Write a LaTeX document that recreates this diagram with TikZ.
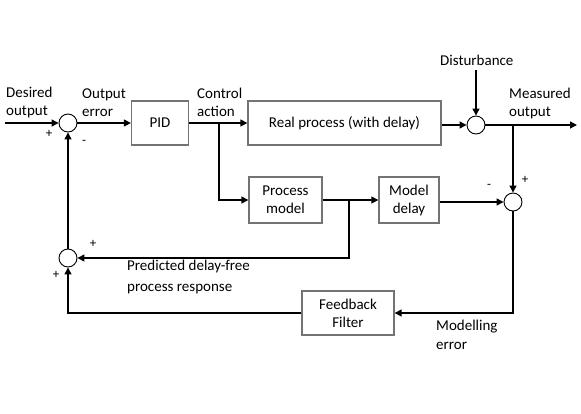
\documentclass[tikz,border=0pt]{standalone}
\usepackage{fontspec}
\setmainfont{Carlito}
\usetikzlibrary{arrows.meta}
\begin{document}
\begin{tikzpicture}[x=1pt,y=-1pt,
  blk/.style={draw=black!55,line width=1.3pt,fill=white,minimum height=44pt,inner sep=0pt,align=center,font=\fontsize{15}{18}\selectfont},
  sumc/.style={circle,draw=black,line width=0.9pt,minimum size=18pt,inner sep=0pt},
  conn/.style={line width=1.3pt,-{Triangle[length=7pt,width=7pt]}},
  lbl/.style={font=\fontsize{15}{17.5}\selectfont,align=left,inner sep=0pt},
  sgn/.style={font=\fontsize{13}{13}\selectfont,inner sep=0pt}]
\useasboundingbox (0,0) rectangle (581,413);
% blocks
\node[blk,minimum width=57pt] (pid) at (160,123) {PID};
\node[blk,minimum width=193pt] (real) at (344.5,123) {Real process (with delay)};
\node[blk,minimum width=73pt,minimum height=46pt] (pm) at (285.5,200) {Process\\model};
\node[blk,minimum width=60pt,minimum height=46pt] (md) at (409,200) {Model\\delay};
\node[blk,minimum width=92pt] (ff) at (348,313) {Feedback\\Filter};
% summing junctions
\node[sumc] (s1) at (68,123) {};
\node[sumc] (s2) at (476,125) {};
\node[sumc] (s3) at (513,202) {};
\node[sumc] (s4) at (68,258) {};
% free ends
\coordinate (in) at (5,123);
\coordinate (dist) at (476,70);
\coordinate (out) at (577,125);
\coordinate (b1) at (219,123);
\coordinate (b2) at (513,125);
\coordinate (b3) at (349,200);
\coordinate (c1) at (68,313);
% connectors
\draw[conn] (in) -- (s1);
\draw[conn] (s1) -- (pid);
\draw[conn] (pid) -- (real);
\draw[conn] (b1) |- (pm);
\draw[conn] (real.east |- s2) -- (s2);
\draw[conn] (dist) -- (s2);
\draw[conn] (s2) -- (out);
\draw[conn] (b2) -- (s3);
\draw[conn] (pm) -- (md);
\draw[conn] (md.east |- s3) -- (s3);
\draw[conn] (b3) |- (s4);
\draw[conn] (s3) |- (ff);
\draw[conn] (ff) -| (c1) -- (s4);
\draw[conn] (s4) -- (s1);
% labels (anchor = baseline of last line)
\node[lbl,anchor=base west] (l1) at (6,115) {Desired\\output};
\node[lbl,anchor=base west] (l2) at (82,116) {Output\\error};
\node[lbl,anchor=base west] (l3) at (197,116) {Control\\action};
\node[lbl,anchor=base west] (l4) at (440,65) {Disturbance};
\node[lbl,anchor=base west] (l5) at (509,116) {Measured\\output};
\node[lbl,anchor=base west,font=\fontsize{15}{20.5}\selectfont] (l6) at (127,291) {Predicted delay-free\\process response};
\node[lbl,anchor=base west,font=\fontsize{15}{18.5}\selectfont] (l7) at (436,349) {Modelling\\error};
% signs
\node[sgn] (p1) at (49,134) {+};
\node[sgn] (m1) at (84,142) {-};
\node[sgn] (p3) at (525,180) {+};
\node[sgn] (m3) at (489,186) {-};
\node[sgn] (p4a) at (93,244) {+};
\node[sgn] (p4b) at (56,275) {+};
\end{tikzpicture}
\end{document}
